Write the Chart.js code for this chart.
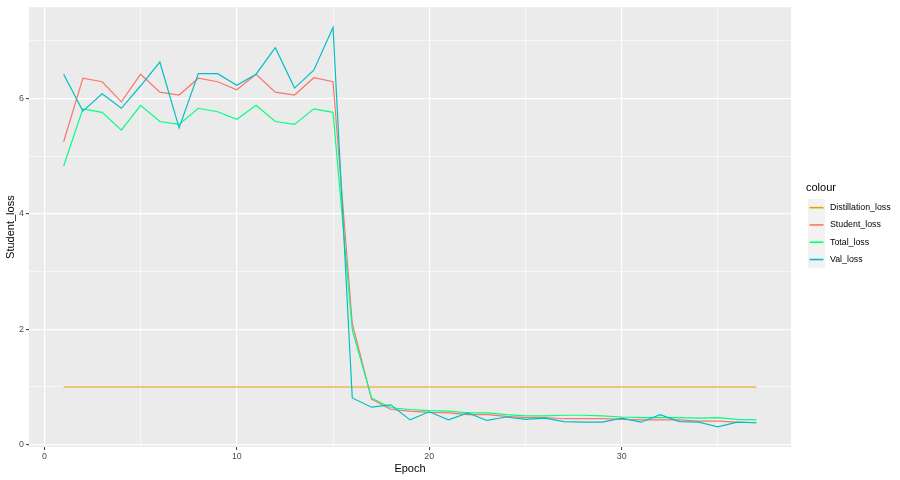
<!DOCTYPE html>
<html>
<head>
<meta charset="utf-8">
<script src="https://cdn.jsdelivr.net/npm/chart.js@4"></script>
<style>
  html, body { margin: 0; padding: 0; background: #fff; }
  #wrap { width: 900px; height: 480px; position: relative; }
</style>
</head>
<body>
<div id="wrap"><canvas id="lossChart"></canvas></div>
<script>
// Data
const epochs = [1, 2, 3, 4, 5, 6, 7, 8, 9, 10, 11, 12, 13, 14, 15, 16, 17, 18, 19, 20,
                21, 22, 23, 24, 25, 26, 27, 28, 29, 30, 31, 32, 33, 34, 35, 36, 37];

const distillationLoss = [1, 1, 1, 1, 1, 1, 1, 1, 1, 1, 1, 1, 1, 1, 1, 1, 1, 1, 1, 1,
                          1, 1, 1, 1, 1, 1, 1, 1, 1, 1, 1, 1, 1, 1, 1, 1, 1];

const studentLoss = [5.25, 6.35, 6.29, 5.94, 6.42, 6.11, 6.06, 6.35, 6.29, 6.15,
                     6.42, 6.11, 6.06, 6.36, 6.29, 2.10, 0.79, 0.61, 0.58, 0.56,
                     0.55, 0.52, 0.52, 0.49, 0.47, 0.47, 0.45, 0.45, 0.45, 0.44,
                     0.43, 0.43, 0.43, 0.41, 0.41, 0.39, 0.38];

const totalLoss = [4.83, 5.82, 5.76, 5.45, 5.88, 5.60, 5.55, 5.83, 5.77, 5.64,
                   5.88, 5.60, 5.55, 5.82, 5.76, 1.99, 0.81, 0.64, 0.61, 0.59,
                   0.58, 0.55, 0.55, 0.52, 0.50, 0.50, 0.51, 0.51, 0.50, 0.48,
                   0.47, 0.47, 0.47, 0.46, 0.47, 0.44, 0.43];

const valLoss = [6.42, 5.78, 6.08, 5.83, 6.22, 6.63, 5.49, 6.43, 6.43, 6.23,
                 6.42, 6.88, 6.18, 6.49, 7.23, 0.81, 0.65, 0.69, 0.43, 0.57,
                 0.43, 0.55, 0.42, 0.48, 0.44, 0.46, 0.40, 0.39, 0.39, 0.46,
                 0.39, 0.52, 0.40, 0.39, 0.31, 0.39, 0.38];

const seriesNames = ['Distillation_loss', 'Student_loss', 'Total_loss', 'Val_loss'];

// axis ticks (labelled) and the minor grid lines in between
const xTickLabels = [0, 10, 20, 30];
const xMinorGrid = [5, 15, 25, 35];
const yTickLabels = [0, 2, 4, 6];
const yMinorGrid = [1, 3, 5, 7];

const colours = ['#E69F00', '#F8766D', '#00FF7F', '#00BFC4'];
const FONT = "'Liberation Sans', Arial, sans-serif";

function toPoints(values) {
    return epochs.map((e, i) => ({ x: e, y: values[i] }));
}

// grey panel like ggplot's theme_grey
const panelBackground = {
    id: 'panelBackground',
    beforeDraw(chart) {
        const { ctx, chartArea: a } = chart;
        ctx.save();
        ctx.fillStyle = '#EBEBEB';
        ctx.fillRect(a.left, a.top, a.right - a.left, a.bottom - a.top);
        ctx.restore();
    }
};

// legend on the right, drawn by hand to get the ggplot look
const sideLegend = {
    id: 'sideLegend',
    afterDraw(chart) {
        const ctx = chart.ctx;
        const x0 = 808, top = 199, keyH = 17.3, keyW = 17;
        ctx.save();
        ctx.fillStyle = '#000';
        ctx.font = '11px ' + FONT;
        ctx.textBaseline = 'middle';
        ctx.textAlign = 'left';
        ctx.fillText('colour', 806, 188);

        seriesNames.forEach((name, i) => {
            const y = top + i * keyH;
            ctx.fillStyle = '#F2F2F2';
            ctx.fillRect(x0, y, keyW, keyH);
            ctx.strokeStyle = colours[i];
            ctx.lineWidth = 1.6;
            ctx.beginPath();
            ctx.moveTo(x0 + 1.5, y + keyH / 2);
            ctx.lineTo(x0 + keyW - 1.5, y + keyH / 2);
            ctx.stroke();
            ctx.fillStyle = '#000';
            ctx.font = '8.8px ' + FONT;
            ctx.fillText(name, 830, y + keyH / 2);
        });
        ctx.restore();
    }
};

function gridTicks(major, minor) {
    return function (scale) {
        scale.ticks = major.concat(minor).sort((a, b) => a - b).map(v => ({ value: v }));
    };
}

function axisOptions(major, minor, min, max, title, fitSize, horizontal) {
    return {
        type: 'linear',
        min: min,
        max: max,
        afterBuildTicks: gridTicks(major, minor),
        afterFit(scale) {
            if (horizontal) scale.height = fitSize; else scale.width = fitSize;
        },
        border: { display: false },
        grid: {
            color: '#FFFFFF',
            lineWidth: ctx => major.includes(ctx.tick && ctx.tick.value) ? 1.2 : 0.6,
            tickColor: ctx => major.includes(ctx.tick && ctx.tick.value) ? '#333333' : 'rgba(0,0,0,0)',
            tickLength: 3,
            tickWidth: 1
        },
        ticks: {
            autoSkip: false,
            maxRotation: 0,
            padding: horizontal ? 1 : 2,
            color: '#4D4D4D',
            font: { family: FONT, size: 8.8 },
            callback: v => major.includes(v) ? String(v) : ''
        },
        title: {
            display: true,
            text: title,
            color: '#000',
            font: { family: FONT, size: 11 },
            padding: { top: 4, bottom: 4 }
        }
    };
}

const seriesValues = [distillationLoss, studentLoss, totalLoss, valLoss];

new Chart(document.getElementById('lossChart').getContext('2d'), {
    type: 'line',
    data: {
        datasets: seriesNames.map((name, i) => ({
            label: name,
            data: toPoints(seriesValues[i]),
            borderColor: colours[i],
            backgroundColor: colours[i],
            borderWidth: 1.2,
            pointRadius: 0,
            tension: 0,
            fill: false,
            order: seriesNames.length - i
        }))
    },
    options: {
        responsive: true,
        maintainAspectRatio: false,
        animation: false,
        layout: { padding: { left: 0, top: 5, right: 109, bottom: 0 } },
        scales: {
            x: axisOptions(xTickLabels, xMinorGrid, -0.8, 38.8, 'Epoch', 33, true),
            y: axisOptions(yTickLabels, yMinorGrid, -0.04, 7.58, 'Student_loss', 29, false)
        },
        plugins: {
            legend: { display: false },
            tooltip: { enabled: false }
        }
    },
    plugins: [panelBackground, sideLegend]
});
</script>
</body>
</html>
